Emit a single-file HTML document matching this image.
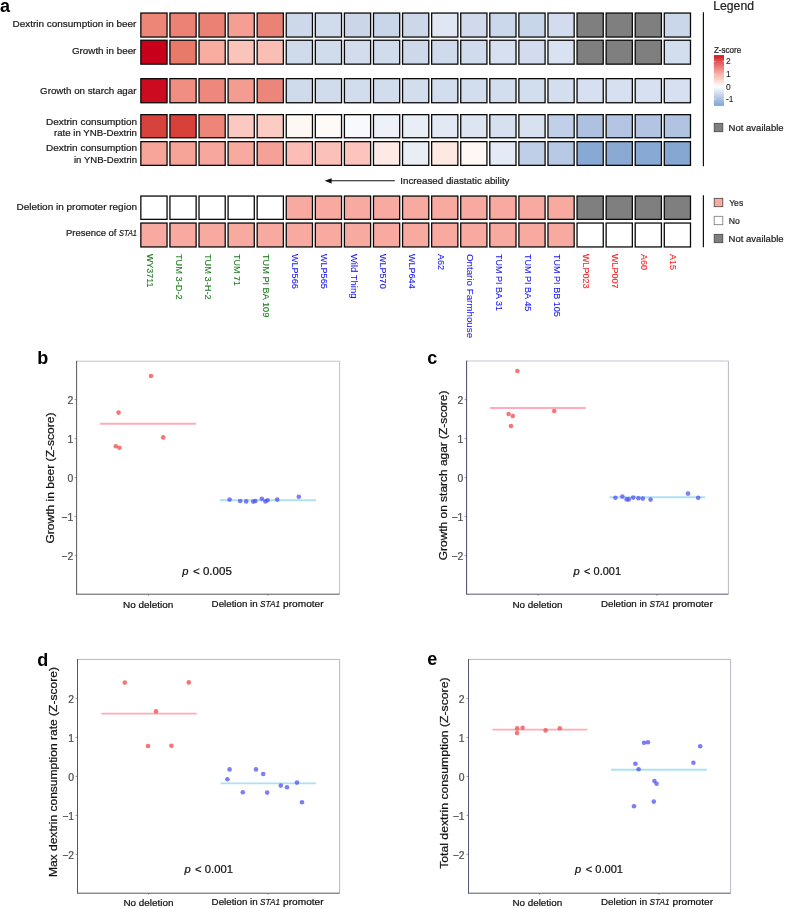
<!DOCTYPE html>
<html lang="en">
<head>
<meta charset="utf-8">
<title>Figure: diastatic ability and STA1 promoter deletion</title>
<style>
html,body{margin:0;padding:0;background:#fff;}
body{width:785px;height:908px;overflow:hidden;font-family:"Liberation Sans", sans-serif;}
svg{display:block;}
text{white-space:pre;stroke-width:0.22px;}
</style>
</head>
<body>
<svg width="785" height="908" viewBox="0 0 785 908">
<defs>
<linearGradient id="zgrad" x1="0" y1="0" x2="0" y2="1">
<stop offset="0" stop-color="#d3131f"/>
<stop offset="0.125" stop-color="#e05455"/>
<stop offset="0.37" stop-color="#f8b0a6"/>
<stop offset="0.62" stop-color="#ffffff"/>
<stop offset="0.87" stop-color="#a9c0e2"/>
<stop offset="1" stop-color="#7ea5d5"/>
</linearGradient>
</defs>
<rect width="785" height="908" fill="#ffffff"/>
<g stroke="#0a0a0a" stroke-width="1.3">
<rect x="140.85" y="13.05" width="26.20" height="24.00" fill="#ee8678"/>
<rect x="169.93" y="13.05" width="26.20" height="24.00" fill="#ec8176"/>
<rect x="199.01" y="13.05" width="26.20" height="24.00" fill="#ea8174"/>
<rect x="228.09" y="13.05" width="26.20" height="24.00" fill="#f49e94"/>
<rect x="257.17" y="13.05" width="26.20" height="24.00" fill="#ea8276"/>
<rect x="286.25" y="13.05" width="26.20" height="24.00" fill="#cdd9ea"/>
<rect x="315.33" y="13.05" width="26.20" height="24.00" fill="#d0dbeb"/>
<rect x="344.41" y="13.05" width="26.20" height="24.00" fill="#cbd6e9"/>
<rect x="373.49" y="13.05" width="26.20" height="24.00" fill="#c9d5e9"/>
<rect x="402.57" y="13.05" width="26.20" height="24.00" fill="#ccd8ea"/>
<rect x="431.65" y="13.05" width="26.20" height="24.00" fill="#e1e6f3"/>
<rect x="460.73" y="13.05" width="26.20" height="24.00" fill="#d0daec"/>
<rect x="489.81" y="13.05" width="26.20" height="24.00" fill="#cbd7ea"/>
<rect x="518.89" y="13.05" width="26.20" height="24.00" fill="#c8d6ea"/>
<rect x="547.97" y="13.05" width="26.20" height="24.00" fill="#d2dcee"/>
<rect x="577.05" y="13.05" width="26.20" height="24.00" fill="#7f7f7f"/>
<rect x="606.13" y="13.05" width="26.20" height="24.00" fill="#7f7f7f"/>
<rect x="635.21" y="13.05" width="26.20" height="24.00" fill="#7f7f7f"/>
<rect x="664.29" y="13.05" width="26.20" height="24.00" fill="#cad7eb"/>
<rect x="140.85" y="40.25" width="26.20" height="23.90" fill="#c8001a"/>
<rect x="169.93" y="40.25" width="26.20" height="23.90" fill="#e87a6a"/>
<rect x="199.01" y="40.25" width="26.20" height="23.90" fill="#f8ada0"/>
<rect x="228.09" y="40.25" width="26.20" height="23.90" fill="#fbc4ba"/>
<rect x="257.17" y="40.25" width="26.20" height="23.90" fill="#fbbeb4"/>
<rect x="286.25" y="40.25" width="26.20" height="23.90" fill="#cfdaeb"/>
<rect x="315.33" y="40.25" width="26.20" height="23.90" fill="#d0dbeb"/>
<rect x="344.41" y="40.25" width="26.20" height="23.90" fill="#d2dcec"/>
<rect x="373.49" y="40.25" width="26.20" height="23.90" fill="#d0dbeb"/>
<rect x="402.57" y="40.25" width="26.20" height="23.90" fill="#cdd9eb"/>
<rect x="431.65" y="40.25" width="26.20" height="23.90" fill="#cfdaec"/>
<rect x="460.73" y="40.25" width="26.20" height="23.90" fill="#d0dbed"/>
<rect x="489.81" y="40.25" width="26.20" height="23.90" fill="#d6e0f0"/>
<rect x="518.89" y="40.25" width="26.20" height="23.90" fill="#d2dcee"/>
<rect x="547.97" y="40.25" width="26.20" height="23.90" fill="#d9e2f1"/>
<rect x="577.05" y="40.25" width="26.20" height="23.90" fill="#7f7f7f"/>
<rect x="606.13" y="40.25" width="26.20" height="23.90" fill="#7f7f7f"/>
<rect x="635.21" y="40.25" width="26.20" height="23.90" fill="#7f7f7f"/>
<rect x="664.29" y="40.25" width="26.20" height="23.90" fill="#d2ddee"/>
<rect x="140.85" y="78.65" width="26.20" height="24.10" fill="#cc0a20"/>
<rect x="169.93" y="78.65" width="26.20" height="24.10" fill="#f08e82"/>
<rect x="199.01" y="78.65" width="26.20" height="24.10" fill="#ee887c"/>
<rect x="228.09" y="78.65" width="26.20" height="24.10" fill="#f49c92"/>
<rect x="257.17" y="78.65" width="26.20" height="24.10" fill="#ec857a"/>
<rect x="286.25" y="78.65" width="26.20" height="24.10" fill="#cfdaeb"/>
<rect x="315.33" y="78.65" width="26.20" height="24.10" fill="#d0dbec"/>
<rect x="344.41" y="78.65" width="26.20" height="24.10" fill="#d1dced"/>
<rect x="373.49" y="78.65" width="26.20" height="24.10" fill="#d1dced"/>
<rect x="402.57" y="78.65" width="26.20" height="24.10" fill="#d2ddee"/>
<rect x="431.65" y="78.65" width="26.20" height="24.10" fill="#d2ddee"/>
<rect x="460.73" y="78.65" width="26.20" height="24.10" fill="#d2ddee"/>
<rect x="489.81" y="78.65" width="26.20" height="24.10" fill="#d2ddee"/>
<rect x="518.89" y="78.65" width="26.20" height="24.10" fill="#d2ddee"/>
<rect x="547.97" y="78.65" width="26.20" height="24.10" fill="#d3deee"/>
<rect x="577.05" y="78.65" width="26.20" height="24.10" fill="#d6e0f0"/>
<rect x="606.13" y="78.65" width="26.20" height="24.10" fill="#d6e0f0"/>
<rect x="635.21" y="78.65" width="26.20" height="24.10" fill="#d6e0f0"/>
<rect x="664.29" y="78.65" width="26.20" height="24.10" fill="#d6e0f0"/>
<rect x="140.85" y="114.65" width="26.20" height="23.10" fill="#d8423c"/>
<rect x="169.93" y="114.65" width="26.20" height="23.10" fill="#d8403a"/>
<rect x="199.01" y="114.65" width="26.20" height="23.10" fill="#ee8579"/>
<rect x="228.09" y="114.65" width="26.20" height="23.10" fill="#fcc9c2"/>
<rect x="257.17" y="114.65" width="26.20" height="23.10" fill="#fccbc4"/>
<rect x="286.25" y="114.65" width="26.20" height="23.10" fill="#fef8f4"/>
<rect x="315.33" y="114.65" width="26.20" height="23.10" fill="#fefaf7"/>
<rect x="344.41" y="114.65" width="26.20" height="23.10" fill="#f8f9fc"/>
<rect x="373.49" y="114.65" width="26.20" height="23.10" fill="#eef1f8"/>
<rect x="402.57" y="114.65" width="26.20" height="23.10" fill="#e8edf6"/>
<rect x="431.65" y="114.65" width="26.20" height="23.10" fill="#e3e9f4"/>
<rect x="460.73" y="114.65" width="26.20" height="23.10" fill="#dde5f2"/>
<rect x="489.81" y="114.65" width="26.20" height="23.10" fill="#d6e0ef"/>
<rect x="518.89" y="114.65" width="26.20" height="23.10" fill="#d8e1f0"/>
<rect x="547.97" y="114.65" width="26.20" height="23.10" fill="#c1d0e8"/>
<rect x="577.05" y="114.65" width="26.20" height="23.10" fill="#aec1e0"/>
<rect x="606.13" y="114.65" width="26.20" height="23.10" fill="#b3c5e2"/>
<rect x="635.21" y="114.65" width="26.20" height="23.10" fill="#b2c4e1"/>
<rect x="664.29" y="114.65" width="26.20" height="23.10" fill="#b0c3e0"/>
<rect x="140.85" y="141.65" width="26.20" height="23.70" fill="#f7a59b"/>
<rect x="169.93" y="141.65" width="26.20" height="23.70" fill="#f6a398"/>
<rect x="199.01" y="141.65" width="26.20" height="23.70" fill="#f7a79d"/>
<rect x="228.09" y="141.65" width="26.20" height="23.70" fill="#f8aaa0"/>
<rect x="257.17" y="141.65" width="26.20" height="23.70" fill="#f5a197"/>
<rect x="286.25" y="141.65" width="26.20" height="23.70" fill="#fbbdb5"/>
<rect x="315.33" y="141.65" width="26.20" height="23.70" fill="#fbc0b8"/>
<rect x="344.41" y="141.65" width="26.20" height="23.70" fill="#fcc4bc"/>
<rect x="373.49" y="141.65" width="26.20" height="23.70" fill="#fee9e6"/>
<rect x="402.57" y="141.65" width="26.20" height="23.70" fill="#e9eef5"/>
<rect x="431.65" y="141.65" width="26.20" height="23.70" fill="#fee8e2"/>
<rect x="460.73" y="141.65" width="26.20" height="23.70" fill="#fff8f4"/>
<rect x="489.81" y="141.65" width="26.20" height="23.70" fill="#e4eaf6"/>
<rect x="518.89" y="141.65" width="26.20" height="23.70" fill="#c0cfe8"/>
<rect x="547.97" y="141.65" width="26.20" height="23.70" fill="#b8c9e5"/>
<rect x="577.05" y="141.65" width="26.20" height="23.70" fill="#88a9d3"/>
<rect x="606.13" y="141.65" width="26.20" height="23.70" fill="#8aaad3"/>
<rect x="635.21" y="141.65" width="26.20" height="23.70" fill="#88a9d3"/>
<rect x="664.29" y="141.65" width="26.20" height="23.70" fill="#86a7d2"/>
<rect x="140.85" y="196.05" width="26.20" height="23.30" fill="#ffffff"/>
<rect x="169.93" y="196.05" width="26.20" height="23.30" fill="#ffffff"/>
<rect x="199.01" y="196.05" width="26.20" height="23.30" fill="#ffffff"/>
<rect x="228.09" y="196.05" width="26.20" height="23.30" fill="#ffffff"/>
<rect x="257.17" y="196.05" width="26.20" height="23.30" fill="#ffffff"/>
<rect x="286.25" y="196.05" width="26.20" height="23.30" fill="#f8a9a0"/>
<rect x="315.33" y="196.05" width="26.20" height="23.30" fill="#f8a9a0"/>
<rect x="344.41" y="196.05" width="26.20" height="23.30" fill="#f8a9a0"/>
<rect x="373.49" y="196.05" width="26.20" height="23.30" fill="#f8a9a0"/>
<rect x="402.57" y="196.05" width="26.20" height="23.30" fill="#f8a9a0"/>
<rect x="431.65" y="196.05" width="26.20" height="23.30" fill="#f8a9a0"/>
<rect x="460.73" y="196.05" width="26.20" height="23.30" fill="#f8a9a0"/>
<rect x="489.81" y="196.05" width="26.20" height="23.30" fill="#f8a9a0"/>
<rect x="518.89" y="196.05" width="26.20" height="23.30" fill="#f8a9a0"/>
<rect x="547.97" y="196.05" width="26.20" height="23.30" fill="#f8a9a0"/>
<rect x="577.05" y="196.05" width="26.20" height="23.30" fill="#7f7f7f"/>
<rect x="606.13" y="196.05" width="26.20" height="23.30" fill="#7f7f7f"/>
<rect x="635.21" y="196.05" width="26.20" height="23.30" fill="#7f7f7f"/>
<rect x="664.29" y="196.05" width="26.20" height="23.30" fill="#7f7f7f"/>
<rect x="140.85" y="223.05" width="26.20" height="23.90" fill="#f8a9a0"/>
<rect x="169.93" y="223.05" width="26.20" height="23.90" fill="#f8a9a0"/>
<rect x="199.01" y="223.05" width="26.20" height="23.90" fill="#f8a9a0"/>
<rect x="228.09" y="223.05" width="26.20" height="23.90" fill="#f8a9a0"/>
<rect x="257.17" y="223.05" width="26.20" height="23.90" fill="#f8a9a0"/>
<rect x="286.25" y="223.05" width="26.20" height="23.90" fill="#f8a9a0"/>
<rect x="315.33" y="223.05" width="26.20" height="23.90" fill="#f8a9a0"/>
<rect x="344.41" y="223.05" width="26.20" height="23.90" fill="#f8a9a0"/>
<rect x="373.49" y="223.05" width="26.20" height="23.90" fill="#f8a9a0"/>
<rect x="402.57" y="223.05" width="26.20" height="23.90" fill="#f8a9a0"/>
<rect x="431.65" y="223.05" width="26.20" height="23.90" fill="#f8a9a0"/>
<rect x="460.73" y="223.05" width="26.20" height="23.90" fill="#f8a9a0"/>
<rect x="489.81" y="223.05" width="26.20" height="23.90" fill="#f8a9a0"/>
<rect x="518.89" y="223.05" width="26.20" height="23.90" fill="#f8a9a0"/>
<rect x="547.97" y="223.05" width="26.20" height="23.90" fill="#f8a9a0"/>
<rect x="577.05" y="223.05" width="26.20" height="23.90" fill="#ffffff"/>
<rect x="606.13" y="223.05" width="26.20" height="23.90" fill="#ffffff"/>
<rect x="635.21" y="223.05" width="26.20" height="23.90" fill="#ffffff"/>
<rect x="664.29" y="223.05" width="26.20" height="23.90" fill="#ffffff"/>
</g>
<g font-family='"Liberation Sans", sans-serif'>
<text font-size="9.8" fill="#1a1a1a" stroke="#1a1a1a" textLength="123.9" lengthAdjust="spacingAndGlyphs" x="12.5" y="26.9">Dextrin consumption in beer</text>
<text font-size="9.8" fill="#1a1a1a" stroke="#1a1a1a" textLength="64.5" lengthAdjust="spacingAndGlyphs" x="71.9" y="54">Growth in beer</text>
<text font-size="9.8" fill="#1a1a1a" stroke="#1a1a1a" textLength="96.3" lengthAdjust="spacingAndGlyphs" x="40.1" y="93.5">Growth on starch agar</text>
<text font-size="9.8" fill="#1a1a1a" stroke="#1a1a1a" textLength="91" lengthAdjust="spacingAndGlyphs" x="46" y="124.6">Dextrin consumption</text>
<text font-size="9.8" fill="#1a1a1a" stroke="#1a1a1a" textLength="83" lengthAdjust="spacingAndGlyphs" x="54" y="136.2">rate in YNB-Dextrin</text>
<text font-size="9.8" fill="#1a1a1a" stroke="#1a1a1a" textLength="91" lengthAdjust="spacingAndGlyphs" x="46" y="151.4">Dextrin consumption</text>
<text font-size="9.8" fill="#1a1a1a" stroke="#1a1a1a" textLength="63" lengthAdjust="spacingAndGlyphs" x="74" y="163">in YNB-Dextrin</text>
<text font-size="9.8" fill="#1a1a1a" stroke="#1a1a1a" textLength="120.4" lengthAdjust="spacingAndGlyphs" x="16.6" y="209.9">Deletion in promoter region</text>
<text font-size="9.8" fill="#1a1a1a" stroke="#1a1a1a" textLength="50.5" lengthAdjust="spacingAndGlyphs" x="66" y="236.1">Presence of</text>
<text font-size="9.8" fill="#1a1a1a" stroke="#1a1a1a" font-style="italic" textLength="18" lengthAdjust="spacingAndGlyphs" x="119" y="236.1">STA1</text>
<text font-size="18" fill="#000" font-weight="bold" x="0.1" y="11.8">a</text>
<text font-size="18" fill="#000" font-weight="bold" x="37.2" y="363.6">b</text>
<text font-size="18" fill="#000" font-weight="bold" x="427.2" y="363.6">c</text>
<text font-size="18" fill="#000" font-weight="bold" x="37.2" y="665.6">d</text>
<text font-size="18" fill="#000" font-weight="bold" x="427.2" y="665.4">e</text>
<line x1="329" y1="180.8" x2="394.8" y2="180.8" stroke="#111" stroke-width="1.1"/>
<path d="M324.6 180.8 L331.6 178.2 L331.6 183.4 Z" fill="#111"/>
<text font-size="9.8" fill="#1a1a1a" stroke="#1a1a1a" textLength="109.2" lengthAdjust="spacingAndGlyphs" x="400.3" y="183.5">Increased diastatic ability</text>
<text font-size="9.5" fill="#1c7a1c" stroke="#1c7a1c" textLength="33.6" lengthAdjust="spacingAndGlyphs" transform="translate(147.0 253.9) rotate(90)" style="stroke-width:0.06px">WY3711</text>
<text font-size="9.5" fill="#1c7a1c" stroke="#1c7a1c" textLength="45.8" lengthAdjust="spacingAndGlyphs" transform="translate(176.08 253.9) rotate(90)" style="stroke-width:0.06px">TUM 3-D-2</text>
<text font-size="9.5" fill="#1c7a1c" stroke="#1c7a1c" textLength="45.8" lengthAdjust="spacingAndGlyphs" transform="translate(205.16 253.9) rotate(90)" style="stroke-width:0.06px">TUM 3-H-2</text>
<text font-size="9.5" fill="#1c7a1c" stroke="#1c7a1c" textLength="32.1" lengthAdjust="spacingAndGlyphs" transform="translate(234.24 253.9) rotate(90)" style="stroke-width:0.06px">TUM 71</text>
<text font-size="9.5" fill="#1c7a1c" stroke="#1c7a1c" textLength="63.4" lengthAdjust="spacingAndGlyphs" transform="translate(263.32 253.9) rotate(90)" style="stroke-width:0.06px">TUM PI BA 109</text>
<text font-size="9.5" fill="#1414ff" stroke="#1414ff" textLength="34.9" lengthAdjust="spacingAndGlyphs" transform="translate(292.4 253.9) rotate(90)" style="stroke-width:0.06px">WLP566</text>
<text font-size="9.5" fill="#1414ff" stroke="#1414ff" textLength="34.9" lengthAdjust="spacingAndGlyphs" transform="translate(321.48 253.9) rotate(90)" style="stroke-width:0.06px">WLP565</text>
<text font-size="9.5" fill="#1414ff" stroke="#1414ff" textLength="44.6" lengthAdjust="spacingAndGlyphs" transform="translate(350.56 253.9) rotate(90)" style="stroke-width:0.06px">Wild Thing</text>
<text font-size="9.5" fill="#1414ff" stroke="#1414ff" textLength="34.8" lengthAdjust="spacingAndGlyphs" transform="translate(379.64 253.9) rotate(90)" style="stroke-width:0.06px">WLP570</text>
<text font-size="9.5" fill="#1414ff" stroke="#1414ff" textLength="34.8" lengthAdjust="spacingAndGlyphs" transform="translate(408.72 253.9) rotate(90)" style="stroke-width:0.06px">WLP644</text>
<text font-size="9.5" fill="#1414ff" stroke="#1414ff" textLength="16" lengthAdjust="spacingAndGlyphs" transform="translate(437.8 253.9) rotate(90)" style="stroke-width:0.06px">A62</text>
<text font-size="9.5" fill="#1414ff" stroke="#1414ff" textLength="84.2" lengthAdjust="spacingAndGlyphs" transform="translate(466.88 253.9) rotate(90)" style="stroke-width:0.06px">Ontario Farmhouse</text>
<text font-size="9.5" fill="#1414ff" stroke="#1414ff" textLength="57" lengthAdjust="spacingAndGlyphs" transform="translate(495.96 253.9) rotate(90)" style="stroke-width:0.06px">TUM PI BA 31</text>
<text font-size="9.5" fill="#1414ff" stroke="#1414ff" textLength="57.3" lengthAdjust="spacingAndGlyphs" transform="translate(525.04 253.9) rotate(90)" style="stroke-width:0.06px">TUM PI BA 45</text>
<text font-size="9.5" fill="#1414ff" stroke="#1414ff" textLength="63" lengthAdjust="spacingAndGlyphs" transform="translate(554.12 253.9) rotate(90)" style="stroke-width:0.06px">TUM PI BB 105</text>
<text font-size="9.5" fill="#ff1a1a" stroke="#ff1a1a" textLength="34.7" lengthAdjust="spacingAndGlyphs" transform="translate(583.2 253.9) rotate(90)" style="stroke-width:0.06px">WLP023</text>
<text font-size="9.5" fill="#ff1a1a" stroke="#ff1a1a" textLength="34.7" lengthAdjust="spacingAndGlyphs" transform="translate(612.28 253.9) rotate(90)" style="stroke-width:0.06px">WLP007</text>
<text font-size="9.5" fill="#ff1a1a" stroke="#ff1a1a" textLength="16" lengthAdjust="spacingAndGlyphs" transform="translate(641.36 253.9) rotate(90)" style="stroke-width:0.06px">A60</text>
<text font-size="9.5" fill="#ff1a1a" stroke="#ff1a1a" textLength="16" lengthAdjust="spacingAndGlyphs" transform="translate(670.44 253.9) rotate(90)" style="stroke-width:0.06px">A15</text>
<text font-size="12" fill="#222" stroke="#222" textLength="40.8" lengthAdjust="spacingAndGlyphs" x="713.2" y="9.6">Legend</text>
<line x1="703.4" y1="12.3" x2="703.4" y2="166.2" stroke="#111" stroke-width="1.2"/>
<line x1="703.4" y1="195.2" x2="703.4" y2="247.2" stroke="#111" stroke-width="1.2"/>
<text font-size="8.6" fill="#222" stroke="#222" textLength="27.4" lengthAdjust="spacingAndGlyphs" x="713.9" y="52.8">Z-score</text>
<rect x="713.9" y="55.1" width="10.1" height="50.8" fill="url(#zgrad)"/>
<path d="M713.9 61.4h2M722 61.4h2" stroke="#fff" stroke-width="0.5" opacity="0.8"/>
<path d="M713.9 74.0h2M722 74.0h2" stroke="#fff" stroke-width="0.5" opacity="0.8"/>
<path d="M713.9 86.5h2M722 86.5h2" stroke="#fff" stroke-width="0.5" opacity="0.8"/>
<path d="M713.9 99.1h2M722 99.1h2" stroke="#fff" stroke-width="0.5" opacity="0.8"/>
<text font-size="8.4" fill="#222" stroke="#222" x="726" y="64.0" style="stroke-width:0.1px">2</text>
<text font-size="8.4" fill="#222" stroke="#222" x="726" y="76.6" style="stroke-width:0.1px">1</text>
<text font-size="8.4" fill="#222" stroke="#222" x="726" y="89.5" style="stroke-width:0.1px">0</text>
<text font-size="8.4" fill="#222" stroke="#222" x="726" y="101.9" style="stroke-width:0.1px">-1</text>
<rect x="714.2" y="123.3" width="8.6" height="8.4" fill="#7f7f7f" stroke="#444" stroke-width="0.8"/>
<text font-size="9.5" fill="#222" stroke="#222" textLength="55" lengthAdjust="spacingAndGlyphs" x="728.6" y="131.1">Not available</text>
<rect x="714.2" y="198.3" width="8.6" height="8.4" fill="#f8a9a0" stroke="#444" stroke-width="0.8"/>
<text font-size="9.5" fill="#222" stroke="#222" textLength="14" lengthAdjust="spacingAndGlyphs" x="729.2" y="205.5">Yes</text>
<rect x="714.2" y="216.3" width="8.6" height="8.4" fill="#ffffff" stroke="#777" stroke-width="0.8"/>
<text font-size="9.5" fill="#222" stroke="#222" textLength="11" lengthAdjust="spacingAndGlyphs" x="728.8" y="223.5">No</text>
<rect x="714.2" y="234.3" width="8.6" height="8.4" fill="#7f7f7f" stroke="#444" stroke-width="0.8"/>
<text font-size="9.5" fill="#222" stroke="#222" textLength="55" lengthAdjust="spacingAndGlyphs" x="728.6" y="241.7">Not available</text>
<line x1="76.6" y1="361.2" x2="339.6" y2="361.2" stroke="#aaa" stroke-width="0.7"/>
<line x1="339.6" y1="361.2" x2="339.6" y2="594.2" stroke="#aaa" stroke-width="0.7"/>
<line x1="76.6" y1="360.8" x2="76.6" y2="594.6" stroke="#444" stroke-width="0.9"/>
<line x1="76.6" y1="594.2" x2="339.6" y2="594.2" stroke="#444" stroke-width="0.9"/>
<line x1="74.6" y1="399.6" x2="76.6" y2="399.6" stroke="#555" stroke-width="0.6"/>
<text font-size="10.4" fill="#4d4d4d" stroke="#4d4d4d" text-anchor="end" x="73.2" y="403.7">2</text>
<line x1="74.6" y1="438.6" x2="76.6" y2="438.6" stroke="#555" stroke-width="0.6"/>
<text font-size="10.4" fill="#4d4d4d" stroke="#4d4d4d" text-anchor="end" x="73.2" y="442.7">1</text>
<line x1="74.6" y1="477.6" x2="76.6" y2="477.6" stroke="#555" stroke-width="0.6"/>
<text font-size="10.4" fill="#4d4d4d" stroke="#4d4d4d" text-anchor="end" x="73.2" y="481.7">0</text>
<line x1="74.6" y1="516.6" x2="76.6" y2="516.6" stroke="#555" stroke-width="0.6"/>
<text font-size="10.4" fill="#4d4d4d" stroke="#4d4d4d" text-anchor="end" x="73.2" y="520.7">−1</text>
<line x1="74.6" y1="555.6" x2="76.6" y2="555.6" stroke="#555" stroke-width="0.6"/>
<text font-size="10.4" fill="#4d4d4d" stroke="#4d4d4d" text-anchor="end" x="73.2" y="559.7">−2</text>
<line x1="148.3" y1="594.2" x2="148.3" y2="595.8000000000001" stroke="#555" stroke-width="0.6"/>
<line x1="267.8" y1="594.2" x2="267.8" y2="595.8000000000001" stroke="#555" stroke-width="0.6"/>
<text font-size="10.3" fill="#111" stroke="#111" textLength="131.0" lengthAdjust="spacingAndGlyphs" transform="translate(53.7 543.6) rotate(-90)">Growth in beer (Z-score)</text>
<line x1="100" y1="423.8" x2="196" y2="423.8" stroke="#ffabb9" stroke-width="1.9"/>
<line x1="220" y1="500.2" x2="316" y2="500.2" stroke="#ace0f2" stroke-width="1.9"/>
<circle cx="151" cy="376" r="2.3" fill="rgba(240,85,85,0.8)"/>
<circle cx="118.6" cy="412.6" r="2.3" fill="rgba(240,85,85,0.8)"/>
<circle cx="163.2" cy="437.4" r="2.3" fill="rgba(240,85,85,0.8)"/>
<circle cx="115.8" cy="446.2" r="2.3" fill="rgba(240,85,85,0.8)"/>
<circle cx="119.4" cy="447.8" r="2.3" fill="rgba(240,85,85,0.8)"/>
<circle cx="229.6" cy="499.6" r="2.3" fill="rgba(75,75,240,0.72)"/>
<circle cx="240.2" cy="501" r="2.3" fill="rgba(75,75,240,0.72)"/>
<circle cx="246.2" cy="501.4" r="2.3" fill="rgba(75,75,240,0.72)"/>
<circle cx="253.2" cy="501.6" r="2.3" fill="rgba(75,75,240,0.72)"/>
<circle cx="255.4" cy="501" r="2.3" fill="rgba(75,75,240,0.72)"/>
<circle cx="261.8" cy="498.8" r="2.3" fill="rgba(75,75,240,0.72)"/>
<circle cx="265.4" cy="501.4" r="2.3" fill="rgba(75,75,240,0.72)"/>
<circle cx="267.6" cy="500.2" r="2.3" fill="rgba(75,75,240,0.72)"/>
<circle cx="277.2" cy="499.6" r="2.3" fill="rgba(75,75,240,0.72)"/>
<circle cx="298.8" cy="496.8" r="2.3" fill="rgba(75,75,240,0.72)"/>
<text font-size="9.8" fill="#111" stroke="#111" textLength="50.4" lengthAdjust="spacingAndGlyphs" x="123" y="608.1">No deletion</text>
<text font-size="9.8" fill="#111" stroke="#111" textLength="46.1" lengthAdjust="spacingAndGlyphs" x="211.6" y="607.2">Deletion in</text>
<text font-size="9.8" fill="#111" stroke="#111" font-style="italic" textLength="20.0" lengthAdjust="spacingAndGlyphs" x="260.1" y="607.2">STA1</text>
<text font-size="9.8" fill="#111" stroke="#111" textLength="40.5" lengthAdjust="spacingAndGlyphs" x="283.1" y="607.2">promoter</text>
<text font-size="11.2" fill="#111" stroke="#111" font-style="italic" textLength="6.2" lengthAdjust="spacingAndGlyphs" x="182.3" y="574.6">p</text>
<text font-size="11.2" fill="#111" stroke="#111" textLength="38.8" lengthAdjust="spacingAndGlyphs" x="193.0" y="574.6">&lt; 0.005</text>
<line x1="466.6" y1="361.0" x2="728.4" y2="361.0" stroke="#aab" stroke-width="0.7"/>
<line x1="728.4" y1="361.0" x2="728.4" y2="594.2" stroke="#99a" stroke-width="0.7"/>
<line x1="466.6" y1="360.6" x2="466.6" y2="594.6" stroke="#335" stroke-width="0.9"/>
<line x1="466.6" y1="594.2" x2="728.4" y2="594.2" stroke="#446" stroke-width="0.9"/>
<line x1="464.6" y1="399.6" x2="466.6" y2="399.6" stroke="#555" stroke-width="0.6"/>
<text font-size="10.4" fill="#4d4d4d" stroke="#4d4d4d" text-anchor="end" x="463.4" y="403.7">2</text>
<line x1="464.6" y1="438.6" x2="466.6" y2="438.6" stroke="#555" stroke-width="0.6"/>
<text font-size="10.4" fill="#4d4d4d" stroke="#4d4d4d" text-anchor="end" x="463.4" y="442.7">1</text>
<line x1="464.6" y1="477.6" x2="466.6" y2="477.6" stroke="#555" stroke-width="0.6"/>
<text font-size="10.4" fill="#4d4d4d" stroke="#4d4d4d" text-anchor="end" x="463.4" y="481.7">0</text>
<line x1="464.6" y1="516.6" x2="466.6" y2="516.6" stroke="#555" stroke-width="0.6"/>
<text font-size="10.4" fill="#4d4d4d" stroke="#4d4d4d" text-anchor="end" x="463.4" y="520.7">−1</text>
<line x1="464.6" y1="555.6" x2="466.6" y2="555.6" stroke="#555" stroke-width="0.6"/>
<text font-size="10.4" fill="#4d4d4d" stroke="#4d4d4d" text-anchor="end" x="463.4" y="559.7">−2</text>
<line x1="538" y1="594.2" x2="538" y2="595.8000000000001" stroke="#555" stroke-width="0.6"/>
<line x1="657" y1="594.2" x2="657" y2="595.8000000000001" stroke="#555" stroke-width="0.6"/>
<text font-size="10.3" fill="#111" stroke="#111" textLength="169.6" lengthAdjust="spacingAndGlyphs" transform="translate(447.0 560.2) rotate(-90)">Growth on starch agar (Z-score)</text>
<line x1="490" y1="408" x2="585.8" y2="408" stroke="#ffabb9" stroke-width="1.9"/>
<line x1="609.4" y1="497.2" x2="705" y2="497.2" stroke="#ace0f2" stroke-width="1.9"/>
<circle cx="517.4" cy="371" r="2.3" fill="rgba(240,85,85,0.8)"/>
<circle cx="508.6" cy="414" r="2.3" fill="rgba(240,85,85,0.8)"/>
<circle cx="512.8" cy="416" r="2.3" fill="rgba(240,85,85,0.8)"/>
<circle cx="511" cy="426" r="2.3" fill="rgba(240,85,85,0.8)"/>
<circle cx="554.2" cy="411" r="2.3" fill="rgba(240,85,85,0.8)"/>
<circle cx="615.4" cy="497.8" r="2.3" fill="rgba(75,75,240,0.72)"/>
<circle cx="622.4" cy="496.6" r="2.3" fill="rgba(75,75,240,0.72)"/>
<circle cx="626.6" cy="499.4" r="2.3" fill="rgba(75,75,240,0.72)"/>
<circle cx="628.8" cy="499.4" r="2.3" fill="rgba(75,75,240,0.72)"/>
<circle cx="633.2" cy="497.6" r="2.3" fill="rgba(75,75,240,0.72)"/>
<circle cx="638.4" cy="498.2" r="2.3" fill="rgba(75,75,240,0.72)"/>
<circle cx="642.8" cy="498.6" r="2.3" fill="rgba(75,75,240,0.72)"/>
<circle cx="650.6" cy="499.6" r="2.3" fill="rgba(75,75,240,0.72)"/>
<circle cx="688" cy="493.6" r="2.3" fill="rgba(75,75,240,0.72)"/>
<circle cx="698.2" cy="497.8" r="2.3" fill="rgba(75,75,240,0.72)"/>
<text font-size="9.8" fill="#111" stroke="#111" textLength="50.0" lengthAdjust="spacingAndGlyphs" x="512.4" y="608.1">No deletion</text>
<text font-size="9.8" fill="#111" stroke="#111" textLength="46.0" lengthAdjust="spacingAndGlyphs" x="601" y="607.2">Deletion in</text>
<text font-size="9.8" fill="#111" stroke="#111" font-style="italic" textLength="20.0" lengthAdjust="spacingAndGlyphs" x="649.4" y="607.2">STA1</text>
<text font-size="9.8" fill="#111" stroke="#111" textLength="40.4" lengthAdjust="spacingAndGlyphs" x="672.4" y="607.2">promoter</text>
<text font-size="11.2" fill="#111" stroke="#111" font-style="italic" textLength="6.2" lengthAdjust="spacingAndGlyphs" x="573.4" y="574.5">p</text>
<text font-size="11.2" fill="#111" stroke="#111" textLength="36.9" lengthAdjust="spacingAndGlyphs" x="584.1" y="574.5">&lt; 0.001</text>
<line x1="77.5" y1="659.4" x2="339.6" y2="659.4" stroke="#999" stroke-width="0.7"/>
<line x1="339.6" y1="659.4" x2="339.6" y2="893.2" stroke="#99a" stroke-width="0.7"/>
<line x1="77.5" y1="659.0" x2="77.5" y2="893.6" stroke="#444" stroke-width="0.9"/>
<line x1="77.5" y1="893.2" x2="339.6" y2="893.2" stroke="#444" stroke-width="0.9"/>
<line x1="75.5" y1="698.4" x2="77.5" y2="698.4" stroke="#555" stroke-width="0.6"/>
<text font-size="10.4" fill="#4d4d4d" stroke="#4d4d4d" text-anchor="end" x="74" y="702.5">2</text>
<line x1="75.5" y1="737.4" x2="77.5" y2="737.4" stroke="#555" stroke-width="0.6"/>
<text font-size="10.4" fill="#4d4d4d" stroke="#4d4d4d" text-anchor="end" x="74" y="741.5">1</text>
<line x1="75.5" y1="776.4" x2="77.5" y2="776.4" stroke="#555" stroke-width="0.6"/>
<text font-size="10.4" fill="#4d4d4d" stroke="#4d4d4d" text-anchor="end" x="74" y="780.5">0</text>
<line x1="75.5" y1="815.4" x2="77.5" y2="815.4" stroke="#555" stroke-width="0.6"/>
<text font-size="10.4" fill="#4d4d4d" stroke="#4d4d4d" text-anchor="end" x="74" y="819.5">−1</text>
<line x1="75.5" y1="854.4" x2="77.5" y2="854.4" stroke="#555" stroke-width="0.6"/>
<text font-size="10.4" fill="#4d4d4d" stroke="#4d4d4d" text-anchor="end" x="74" y="858.5">−2</text>
<line x1="148.6" y1="893.2" x2="148.6" y2="894.8000000000001" stroke="#555" stroke-width="0.6"/>
<line x1="268" y1="893.2" x2="268" y2="894.8000000000001" stroke="#555" stroke-width="0.6"/>
<text font-size="10.3" fill="#111" stroke="#111" textLength="210.0" lengthAdjust="spacingAndGlyphs" transform="translate(57.0 877.1) rotate(-90)">Max dextrin consumption rate (Z-score)</text>
<line x1="101.4" y1="713.6" x2="196.8" y2="713.6" stroke="#ffabb9" stroke-width="1.9"/>
<line x1="220.6" y1="783.4" x2="316" y2="783.4" stroke="#ace0f2" stroke-width="1.9"/>
<circle cx="124.8" cy="682.6" r="2.3" fill="rgba(240,85,85,0.8)"/>
<circle cx="156" cy="711.4" r="2.3" fill="rgba(240,85,85,0.8)"/>
<circle cx="148" cy="746" r="2.3" fill="rgba(240,85,85,0.8)"/>
<circle cx="171.4" cy="745.8" r="2.3" fill="rgba(240,85,85,0.8)"/>
<circle cx="188.8" cy="682.4" r="2.3" fill="rgba(240,85,85,0.8)"/>
<circle cx="229.6" cy="769.4" r="2.3" fill="rgba(75,75,240,0.72)"/>
<circle cx="227.4" cy="779.2" r="2.3" fill="rgba(75,75,240,0.72)"/>
<circle cx="242.8" cy="792.2" r="2.3" fill="rgba(75,75,240,0.72)"/>
<circle cx="256" cy="769.4" r="2.3" fill="rgba(75,75,240,0.72)"/>
<circle cx="263.2" cy="774" r="2.3" fill="rgba(75,75,240,0.72)"/>
<circle cx="267.2" cy="792.6" r="2.3" fill="rgba(75,75,240,0.72)"/>
<circle cx="280.8" cy="785.6" r="2.3" fill="rgba(75,75,240,0.72)"/>
<circle cx="287" cy="787.2" r="2.3" fill="rgba(75,75,240,0.72)"/>
<circle cx="297" cy="782.6" r="2.3" fill="rgba(75,75,240,0.72)"/>
<circle cx="302" cy="802.2" r="2.3" fill="rgba(75,75,240,0.72)"/>
<text font-size="9.8" fill="#111" stroke="#111" textLength="50.0" lengthAdjust="spacingAndGlyphs" x="123.4" y="906">No deletion</text>
<text font-size="9.8" fill="#111" stroke="#111" textLength="46.1" lengthAdjust="spacingAndGlyphs" x="211.6" y="905.2">Deletion in</text>
<text font-size="9.8" fill="#111" stroke="#111" font-style="italic" textLength="20.0" lengthAdjust="spacingAndGlyphs" x="260.1" y="905.2">STA1</text>
<text font-size="9.8" fill="#111" stroke="#111" textLength="40.5" lengthAdjust="spacingAndGlyphs" x="283.1" y="905.2">promoter</text>
<text font-size="11.2" fill="#111" stroke="#111" font-style="italic" textLength="6.2" lengthAdjust="spacingAndGlyphs" x="184.4" y="873">p</text>
<text font-size="11.2" fill="#111" stroke="#111" textLength="37.9" lengthAdjust="spacingAndGlyphs" x="195.1" y="873">&lt; 0.001</text>
<line x1="468.5" y1="659.4" x2="730.6" y2="659.4" stroke="#99a" stroke-width="0.7"/>
<line x1="730.6" y1="659.4" x2="730.6" y2="893.2" stroke="#99b" stroke-width="0.7"/>
<line x1="468.5" y1="659.0" x2="468.5" y2="893.6" stroke="#446" stroke-width="0.9"/>
<line x1="468.5" y1="893.2" x2="730.6" y2="893.2" stroke="#444" stroke-width="0.9"/>
<line x1="466.5" y1="698.4" x2="468.5" y2="698.4" stroke="#555" stroke-width="0.6"/>
<text font-size="10.4" fill="#4d4d4d" stroke="#4d4d4d" text-anchor="end" x="464.5" y="702.5">2</text>
<line x1="466.5" y1="737.4" x2="468.5" y2="737.4" stroke="#555" stroke-width="0.6"/>
<text font-size="10.4" fill="#4d4d4d" stroke="#4d4d4d" text-anchor="end" x="464.5" y="741.5">1</text>
<line x1="466.5" y1="776.4" x2="468.5" y2="776.4" stroke="#555" stroke-width="0.6"/>
<text font-size="10.4" fill="#4d4d4d" stroke="#4d4d4d" text-anchor="end" x="464.5" y="780.5">0</text>
<line x1="466.5" y1="815.4" x2="468.5" y2="815.4" stroke="#555" stroke-width="0.6"/>
<text font-size="10.4" fill="#4d4d4d" stroke="#4d4d4d" text-anchor="end" x="464.5" y="819.5">−1</text>
<line x1="466.5" y1="854.4" x2="468.5" y2="854.4" stroke="#555" stroke-width="0.6"/>
<text font-size="10.4" fill="#4d4d4d" stroke="#4d4d4d" text-anchor="end" x="464.5" y="858.5">−2</text>
<line x1="539.6" y1="893.2" x2="539.6" y2="894.8000000000001" stroke="#555" stroke-width="0.6"/>
<line x1="659" y1="893.2" x2="659" y2="894.8000000000001" stroke="#555" stroke-width="0.6"/>
<text font-size="10.3" fill="#111" stroke="#111" textLength="191.3" lengthAdjust="spacingAndGlyphs" transform="translate(447.8 868.8) rotate(-90)">Total dextrin consumption (Z-score)</text>
<line x1="492.4" y1="729.6" x2="587.4" y2="729.6" stroke="#ffabb9" stroke-width="1.9"/>
<line x1="611" y1="769.8" x2="707" y2="769.8" stroke="#ace0f2" stroke-width="1.9"/>
<circle cx="517.2" cy="728.4" r="2.3" fill="rgba(240,85,85,0.8)"/>
<circle cx="517" cy="733" r="2.3" fill="rgba(240,85,85,0.8)"/>
<circle cx="522.6" cy="727.8" r="2.3" fill="rgba(240,85,85,0.8)"/>
<circle cx="545.6" cy="730.4" r="2.3" fill="rgba(240,85,85,0.8)"/>
<circle cx="559.8" cy="728.2" r="2.3" fill="rgba(240,85,85,0.8)"/>
<circle cx="644" cy="742.8" r="2.3" fill="rgba(75,75,240,0.72)"/>
<circle cx="648" cy="742.2" r="2.3" fill="rgba(75,75,240,0.72)"/>
<circle cx="700.2" cy="746.2" r="2.3" fill="rgba(75,75,240,0.72)"/>
<circle cx="635.4" cy="763.8" r="2.3" fill="rgba(75,75,240,0.72)"/>
<circle cx="693.4" cy="762.8" r="2.3" fill="rgba(75,75,240,0.72)"/>
<circle cx="638.6" cy="769.2" r="2.3" fill="rgba(75,75,240,0.72)"/>
<circle cx="654.4" cy="781" r="2.3" fill="rgba(75,75,240,0.72)"/>
<circle cx="656.6" cy="783.8" r="2.3" fill="rgba(75,75,240,0.72)"/>
<circle cx="653.8" cy="801.6" r="2.3" fill="rgba(75,75,240,0.72)"/>
<circle cx="634" cy="806.2" r="2.3" fill="rgba(75,75,240,0.72)"/>
<text font-size="9.8" fill="#111" stroke="#111" textLength="49.8" lengthAdjust="spacingAndGlyphs" x="512.4" y="905.7">No deletion</text>
<text font-size="9.8" fill="#111" stroke="#111" textLength="46.1" lengthAdjust="spacingAndGlyphs" x="601" y="905.2">Deletion in</text>
<text font-size="9.8" fill="#111" stroke="#111" font-style="italic" textLength="20.0" lengthAdjust="spacingAndGlyphs" x="649.5" y="905.2">STA1</text>
<text font-size="9.8" fill="#111" stroke="#111" textLength="40.5" lengthAdjust="spacingAndGlyphs" x="672.5" y="905.2">promoter</text>
<text font-size="11.2" fill="#111" stroke="#111" font-style="italic" textLength="6.2" lengthAdjust="spacingAndGlyphs" x="575" y="873">p</text>
<text font-size="11.2" fill="#111" stroke="#111" textLength="37.3" lengthAdjust="spacingAndGlyphs" x="585.7" y="873">&lt; 0.001</text>
</g>
</svg>
</body>
</html>
